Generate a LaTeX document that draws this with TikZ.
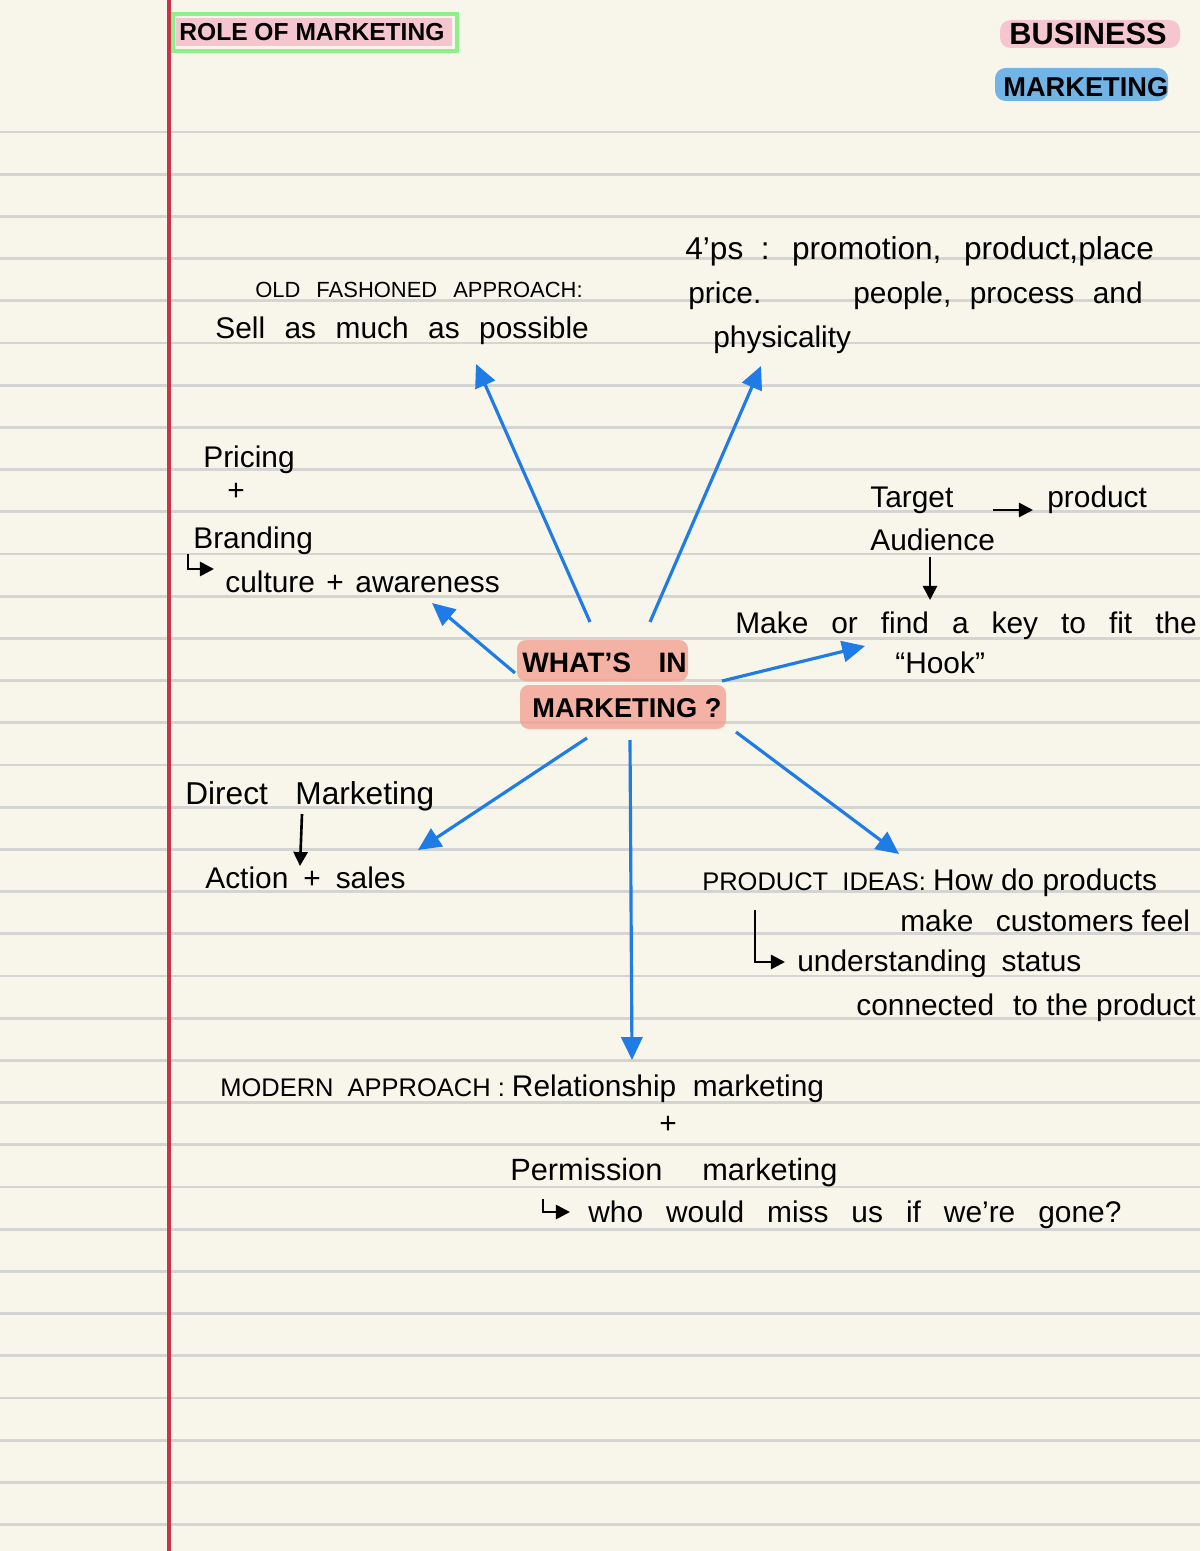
\documentclass[tikz,border=0pt]{standalone}
\usepackage{fontspec}
\setmainfont{Liberation Sans}
\usetikzlibrary{arrows.meta}

\definecolor{paper}{HTML}{F8F6EA}
\definecolor{ruling}{HTML}{D4D5D3}
\definecolor{margin}{HTML}{C9344B}
\definecolor{spokeblue}{HTML}{1F7BE5}
\definecolor{hlpink}{HTML}{F6C6D0}
\definecolor{hlblue}{HTML}{72B4E6}
\definecolor{hlgreen}{HTML}{8DF08A}
\definecolor{hlsalmon}{HTML}{F2A193}

\tikzset{
  note/.style={anchor=base west,inner sep=0pt,font={\fontsize{17}{20}\selectfont\spaceskip=#1\relax}},
  note/.default=0pt,
  capsnote/.style={anchor=base west,inner sep=0pt,font={\fontsize{12.5}{18}\selectfont\spaceskip=#1\relax}},
  capsnote/.default=0pt,
  spoke/.style={spokeblue,line width=1.8pt,-{Triangle[length=13pt,width=12pt]}},
  pen/.style={black,line width=1.5pt,-{Triangle[length=8pt,width=8pt]}},
  rule/.style={ruling,line width=1.6pt}
}

\begin{document}
\begin{tikzpicture}[x=0.02cm,y=-0.02cm]
% the sheet
\clip (0,0) rectangle (1200,1551);
\fill[paper] (0,0) rectangle (1200,1551);
\foreach \k in {0,...,33}
  \draw[rule] (0,{132+42.2*\k}) -- (1200,{132+42.2*\k});
\draw[margin,line width=2.2pt] (169,0) -- (169,1551);
% headings and highlights
\fill[hlpink] (176,18) rectangle (452,46);
\draw[hlgreen,line width=2.4pt] (173,14) rectangle (457,51);
\node[capsnote,font={\bfseries\fontsize{14}{16}\selectfont}] (role) at (179,41) {ROLE OF MARKETING};
\fill[hlpink,rounded corners=6pt] (1000,20) rectangle (1180,48);
\node[capsnote,font={\bfseries\fontsize{17.5}{18}\selectfont}] (business) at (1009,45) {BUSINESS};
\fill[hlblue,rounded corners=6pt] (995,68) rectangle (1168,101);
\node[capsnote,font={\bfseries\fontsize{15.5}{18}\selectfont}] (marketing) at (1003,97) {MARKETING};
% centre
\fill[hlsalmon,opacity=0.8,rounded corners=5pt] (517,640) rectangle (688,681);
\fill[hlsalmon,opacity=0.8,rounded corners=5pt] (520,685) rectangle (726,729);
\node[capsnote,font={\bfseries\fontsize{16}{18}\selectfont\spaceskip=0.55cm\relax}] (whats) at (522,672) {WHAT'S IN};
\node[capsnote,font={\bfseries\fontsize{15.5}{18}\selectfont}] (centre) at (532,717) {MARKETING ?};
% old fashioned approach
\node[capsnote=0.32cm] (old) at (255,297) {OLD FASHONED APPROACH:};
\node[note=0.39cm] (sell) at (215,338) {Sell as much as possible};
% the 4 p's
\node[note,font={\fontsize{18}{20}\selectfont\spaceskip=0.45cm\relax}] (fourps) at (685,259) {4'ps\hspace{0.35cm}:\hspace{0.45cm}promotion, product,place};
\node[note=0.37cm] (price) at (688,303) {price.\hspace{1.84cm}people, process and};
\node[note] (physical) at (713,347) {physicality};
% pricing and branding
\node[note] (pricing) at (203,467) {Pricing};
\node[note,anchor=center] (plusa) at (236,492) {+};
\node[note] (branding) at (193,548) {Branding};
\coordinate (hooka) at (188,554);
\coordinate (hookaend) at (214,569);
\draw[pen] (hooka) |- (hookaend);
\node[note=0.23cm] (culture) at (225,592) {culture + awareness};
% target audience
\node[note] (target) at (870,507) {Target};
\node[note] (product) at (1047,507) {product};
\coordinate (tgtarrow) at (993,510);
\coordinate (prodarrow) at (1033,510);
\draw[pen] (tgtarrow) -- (prodarrow);
\node[note] (audience) at (870,550) {Audience};
\coordinate (keytop) at (930,600);
\draw[pen] (audience.south-|keytop) ++(0,6) -- (keytop);
\node[note=0.46cm] (key) at (735,633) {Make or find a key to fit the};
\node[note] (hook) at (895,673) {``Hook''};
% direct marketing
\node[note,font={\fontsize{18}{20}\selectfont\spaceskip=0.55cm\relax}] (direct) at (185,804) {Direct Marketing};
\node[note=0.3cm] (action) at (205,888) {Action + sales};
\draw[pen] (302,814) -- (300,866);
% product ideas
\node[note] (ideas) at (702,890) {\fontsize{14.5}{18}\selectfont PRODUCT\ \ IDEAS: \fontsize{17}{20}\selectfont How do products};
\node[note] (feel) at (900,931) {make\hspace{0.45cm}customers feel};
\coordinate (bendtop) at (755,910);
\coordinate (bendend) at (785,962);
\draw[pen] (bendtop) |- (bendend);
\node[note=0.3cm] (status) at (797,971) {understanding status};
\node[note] (connected) at (856,1015) {connected\hspace{0.38cm}to the product};
% modern approach
\node[note] (modern) at (220,1096) {\fontsize{14.5}{18}\selectfont MODERN\ \ APPROACH : \fontsize{17}{20}\selectfont Relationship\ \ marketing};
\node[note,anchor=center] (plusb) at (668,1125) {+};
\node[note,font={\fontsize{17.5}{20}\selectfont\spaceskip=0.8cm\relax}] (permission) at (510,1180) {Permission marketing};
\coordinate (hookb) at (543,1199);
\coordinate (hookbend) at (570,1212);
\draw[pen] (hookb) |- (hookbend);
\node[note=0.46cm] (miss) at (588,1222) {who would miss us if we're gone?};
% the spokes out of the centre
\foreach \n/\sx/\sy/\tx/\ty in {old/590/622/476/364, four/650/622/761/366,
    brand/515/673/432/603, aud/722/681/865/646, dir/587/738/418/850,
    mod/630/740/632/1060, prod/736/732/899/854} {
  \coordinate (\n-s) at (\sx,\sy);
  \coordinate (\n-t) at (\tx,\ty);
  \draw[spoke] (\n-s) -- (\n-t);
}
\end{tikzpicture}
\end{document}
